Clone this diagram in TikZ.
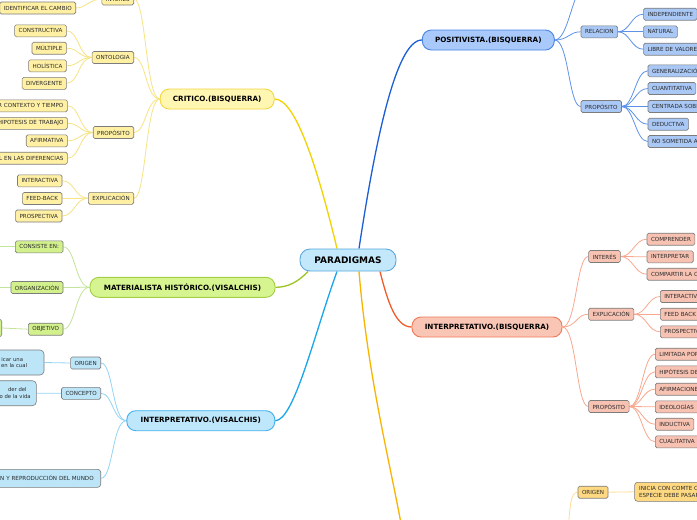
\documentclass[tikz,border=0pt]{standalone}
\usepackage{fontspec}
\setmainfont{DejaVu Sans}
\pgfdeclarelayer{bg}
\pgfsetlayers{bg,main}
\definecolor{txt}{HTML}{2A2A2A}
\definecolor{subgray}{HTML}{7C7C7C}
\definecolor{parafill}{HTML}{C4E8FB}
\definecolor{parabord}{HTML}{5AA8DE}
\definecolor{posfill}{HTML}{A8C9F9}
\definecolor{posbord}{HTML}{4A84E4}
\definecolor{posline}{HTML}{1A5FD6}
\definecolor{possub}{HTML}{A9C8F6}
\definecolor{posl2}{HTML}{5E92E8}
\definecolor{critfill}{HTML}{FFF6B2}
\definecolor{critbord}{HTML}{F2D640}
\definecolor{critline}{HTML}{F2D200}
\definecolor{critsub}{HTML}{FFF0A4}
\definecolor{critl2}{HTML}{F7E484}
\definecolor{matfill}{HTML}{D6F590}
\definecolor{matbord}{HTML}{A4CE44}
\definecolor{matline}{HTML}{9CC424}
\definecolor{matsub}{HTML}{D2F08C}
\definecolor{matl2}{HTML}{C4E49A}
\definecolor{ivfill}{HTML}{BEE7FB}
\definecolor{ivbord}{HTML}{40B0F0}
\definecolor{ivline}{HTML}{1AA6EA}
\definecolor{ivsub}{HTML}{BCE5F8}
\definecolor{ivl2}{HTML}{94D4F4}
\definecolor{ibfill}{HTML}{F9C6B6}
\definecolor{ibbord}{HTML}{F07A58}
\definecolor{ibline}{HTML}{F05C2C}
\definecolor{ibsub}{HTML}{F8C2B2}
\definecolor{ibl2}{HTML}{F8A88E}
\definecolor{orline}{HTML}{F8B400}
\definecolor{orsub}{HTML}{FFD982}
\definecolor{orl2}{HTML}{FFDC94}
\tikzset{
  mainbox/.style={draw, line width=0.9pt, rounded corners=9pt, minimum height=20pt, inner sep=0pt,
    font=\fontsize{7.2}{8}\selectfont\bfseries, text=black},
  subbox/.style={draw=subgray, line width=0.6pt, rounded corners=1.6pt, minimum height=12pt,
    inner xsep=4pt, inner ysep=0pt, font=\fontsize{5.6}{7}\selectfont, text=txt},
  cs/.style={subbox, fill=critsub},
  ps/.style={subbox, fill=possub},
  ms/.style={subbox, fill=matsub},
  vs/.style={subbox, fill=ivsub},
  bs/.style={subbox, fill=ibsub},
  os/.style={subbox, fill=orsub},
  mline/.style={line width=1.3pt},
  ltwo/.style={line width=0.8pt},
}
\begin{document}
\begin{tikzpicture}[x=1pt,y=-1pt]
\useasboundingbox (0,0) rectangle (697,520);
\clip (0,0) rectangle (697,520);

% main nodes
\node[mainbox, fill=parafill, draw=parabord, minimum width=96pt, minimum height=22pt, rounded corners=10pt,
  font=\fontsize{9}{10}\selectfont\bfseries] (para) at (348,260) {PARADIGMAS};
\node[mainbox, fill=posfill, draw=posbord, minimum width=132pt] (pos) at (488.3,40) {POSITIVISTA.(BISQUERRA)};
\node[mainbox, fill=critfill, draw=critbord, minimum width=114pt] (crit) at (217.2,99) {CRITICO.(BISQUERRA)};
\node[mainbox, fill=matfill, draw=matbord, minimum width=185pt] (mat) at (182.5,287.3) {MATERIALISTA HISTÓRICO.(VISALCHIS)};
\node[mainbox, fill=ivfill, draw=ivbord, minimum width=148pt] (iv) at (200.8,420.7) {INTERPRETATIVO.(VISALCHIS)};
\node[mainbox, fill=ibfill, draw=ibbord, minimum width=150pt] (ib) at (487,327) {INTERPRETATIVO.(BISQUERRA)};

% critico
\node[cs, anchor=east] (c1) at (134,-1) {INTERÉS};
\node[cs, anchor=east] (c1a) at (76,8) {IDENTIFICAR EL CAMBIO};
\node[cs, anchor=east] (c2) at (134,57.5) {ONTOLOGIA};
\node[cs, anchor=east] (c2a) at (66.7,30.8) {CONSTRUCTIVA};
\node[cs, anchor=east] (c2b) at (66.7,48.2) {MÚLTIPLE};
\node[cs, anchor=east] (c2c) at (66.7,65.8) {HOLÍSTICA};
\node[cs, anchor=east] (c2d) at (66.7,83.3) {DIVERGENTE};
\node[cs, anchor=east] (c3) at (134,132.5) {PROPÓSITO};
\node[cs, anchor=east, text width=90pt, align=right] (c3a) at (67.7,105.8) {POR CONTEXTO Y TIEMPO};
\node[cs, anchor=east, text width=90pt, align=right] (c3b) at (67.7,123.3) {HIPOTESIS DE TRABAJO};
\node[cs, anchor=east] (c3c) at (67.7,140.8) {AFIRMATIVA};
\node[cs, anchor=east, text width=90pt, align=right] (c3d) at (67.7,158.2) {L EN LAS DIFERENCIAS};
\node[cs, anchor=east] (c4) at (134,198.3) {EXPLICACIÓN};
\node[cs, anchor=east] (c4a) at (62.3,180.8) {INTERACTIVA};
\node[cs, anchor=east] (c4b) at (62.3,198.5) {FEED-BACK};
\node[cs, anchor=east] (c4c) at (62.3,216) {PROSPECTIVA};

% materialista
\node[ms, anchor=east] (m1) at (63.3,246.8) {CONSISTE EN:};
\node[ms, anchor=east] (m2) at (63.3,287.5) {ORGANIZACIÓN};
\node[ms, anchor=east] (m3) at (63.3,329.2) {OBJETIVO};
\node[ms, anchor=east, minimum width=40pt, minimum height=18pt, rounded corners=3pt] (m3a) at (2,328) {};
\coordinate (m1end) at (-4,246.8);
\coordinate (m2end) at (-4,287.5);

% interpretativo visalchis
\node[vs, anchor=east] (v1) at (101,363) {ORIGEN};
\node[vs, anchor=east, text width=60pt, align=right, inner xsep=17pt, minimum height=25pt, rounded corners=4pt,
  font=\fontsize{5.3}{6.5}\selectfont] (v1a) at (44.3,362.5) {icar una\kern4pt\\en la cual};
\node[vs, anchor=east] (v2) at (101,393.3) {CONCEPTO};
\node[vs, anchor=east, text width=60pt, align=right, inner xsep=5.7pt, minimum height=25pt, rounded corners=4pt,
  font=\fontsize{5.3}{6.5}\selectfont] (v2a) at (36.7,393.2) {der del\kern4pt\\o de la vida};
\node[vs, anchor=east, text width=110pt, align=right, inner xsep=7pt, minimum height=18pt, rounded corners=3pt] (v3) at (101,478.3) {ÓN Y REPRODUCCIÓN DEL MUNDO};

% positivista
\coordinate (ptop) at (585,-14);
\node[ps, anchor=west] (p1) at (580.7,31.8) {RELACION};
\node[ps, anchor=west] (p1a) at (643.3,14.2) {INDEPENDIENTE};
\node[ps, anchor=west] (p1b) at (643.3,31.8) {NATURAL};
\node[ps, anchor=west] (p1c) at (643.3,49.2) {LIBRE DE VALORES};
\node[ps, anchor=west] (p2) at (580.7,106.5) {PROPÓSITO};
\node[ps, anchor=west] (p2a) at (647.7,70.8) {GENERALIZACIÓN};
\node[ps, anchor=west] (p2b) at (647.7,88.5) {CUANTITATIVA};
\node[ps, anchor=west, text width=80pt, align=left] (p2c) at (647.7,106.5) {CENTRADA SOBRE};
\node[ps, anchor=west] (p2d) at (647.7,124.2) {DEDUCTIVA};
\node[ps, anchor=west, text width=80pt, align=left] (p2e) at (647.7,141.5) {NO SOMETIDA A};

% interpretativo bisquerra
\node[bs, anchor=west] (b1) at (588.3,256.5) {INTERÉS};
\node[bs, anchor=west] (b1a) at (646.7,239.2) {COMPRENDER};
\node[bs, anchor=west] (b1b) at (646.7,256.8) {INTERPRETAR};
\node[bs, anchor=west] (b1c) at (646.7,274.2) {COMPARTIR LA CULTURA};
\node[bs, anchor=west] (b2) at (588.3,314.2) {EXPLICACIÓN};
\node[bs, anchor=west] (b2a) at (660,296.5) {INTERACTIVA};
\node[bs, anchor=west, text width=60pt, align=left] (b2b) at (660,314.2) {FEED BACK};
\node[bs, anchor=west] (b2c) at (660,331.8) {PROSPECTIVA};
\node[bs, anchor=west] (b3) at (588.3,406.5) {PROPÓSITO};
\node[bs, anchor=west] (b3a) at (655,354.2) {LIMITADA POR};
\node[bs, anchor=west] (b3b) at (655,371.8) {HIPÓTESIS DE};
\node[bs, anchor=west] (b3c) at (655,389.2) {AFIRMACIONES};
\node[bs, anchor=west, text width=60pt, align=left] (b3d) at (655,406.8) {IDEOLOGÍAS};
\node[bs, anchor=west] (b3e) at (655,424.2) {INDUCTIVA};
\node[bs, anchor=west] (b3f) at (655,441.8) {CUALITATIVA};

% orange branch
\coordinate (orend) at (404,540);
\coordinate (oend) at (568,532);
\node[os, anchor=west] (o1) at (577.7,492.2) {ORIGEN};
\node[os, anchor=west, text width=90pt, align=left, inner xsep=4.5pt, minimum height=19pt, rounded corners=3pt,
  font=\fontsize{5.6}{7}\selectfont] (o1a) at (634.3,491.8) {INICIA CON COMTE CUANDO\\ESPECIE DEBE PASAR};

\begin{pgfonlayer}{bg}
\fill[white] (0,0) rectangle (697,520);
% main connectors
\draw[mline, draw=posline] ([xshift=11pt]para.north) .. controls (374,150) and (395,40) .. (pos.west);
\draw[mline, draw=critline] ([xshift=-11pt]para.north) .. controls (318,170) and (296,99) .. (crit.east);
\draw[mline, draw=matline] ([xshift=-40pt]para.south) .. controls (298,282) and (288,287.3) .. (mat.east);
\draw[mline, draw=ivline] ([xshift=-11pt]para.south) .. controls (314,335) and (294,420.7) .. (iv.east);
\draw[mline, draw=ibline] ([xshift=32pt]para.south) .. controls (388,303) and (396,327) .. (ib.west);
\draw[mline, draw=orline] ([xshift=11pt]para.south) .. controls (368,380) and (392,470) .. (orend);
% critico
\foreach \n in {c1,c2,c3,c4}
  \draw[ltwo, draw=critl2] (crit.west) .. controls +(-14,0) and +(12,0) .. (\n.east);
\draw[ltwo, draw=critl2] (c1.west) .. controls +(-12,0) and +(10,0) .. (c1a.east);
\foreach \n in {c2a,c2b,c2c,c2d}
  \draw[ltwo, draw=critl2] (c2.west) .. controls +(-13,0) and +(12,0) .. (\n.east);
\foreach \n in {c3a,c3b,c3c,c3d}
  \draw[ltwo, draw=critl2] (c3.west) .. controls +(-13,0) and +(12,0) .. (\n.east);
\foreach \n in {c4a,c4b,c4c}
  \draw[ltwo, draw=critl2] (c4.west) .. controls +(-13,0) and +(12,0) .. (\n.east);
% materialista
\foreach \n in {m1,m2,m3}
  \draw[ltwo, draw=matl2] (mat.west) .. controls +(-14,0) and +(12,0) .. (\n.east);
\draw[ltwo, draw=matl2] (m1.west) -- (m1end);
\draw[ltwo, draw=matl2] (m2.west) -- (m2end);
\draw[ltwo, draw=matl2] (m3.west) -- (m3a.east);
% interpretativo visalchis
\foreach \n in {v1,v2,v3}
  \draw[ltwo, draw=ivl2] (iv.west) .. controls +(-14,0) and +(12,0) .. (\n.east);
\draw[ltwo, draw=ivl2] (v1.west) -- (v1a.east);
\draw[ltwo, draw=ivl2] (v2.west) -- (v2a.east);
% positivista
\draw[ltwo, draw=posl2] (pos.east) .. controls +(14,0) and +(-12,0) .. (ptop);
\foreach \n in {p1,p2}
  \draw[ltwo, draw=posl2] (pos.east) .. controls +(14,0) and +(-12,0) .. (\n.west);
\foreach \n in {p1a,p1b,p1c}
  \draw[ltwo, draw=posl2] (p1.east) .. controls +(12,0) and +(-12,0) .. (\n.west);
\foreach \n in {p2a,p2b,p2c,p2d,p2e}
  \draw[ltwo, draw=posl2] (p2.east) .. controls +(12,0) and +(-12,0) .. (\n.west);
% interpretativo bisquerra
\foreach \n in {b1,b2,b3}
  \draw[ltwo, draw=ibl2] (ib.east) .. controls +(14,0) and +(-12,0) .. (\n.west);
\foreach \n in {b1a,b1b,b1c}
  \draw[ltwo, draw=ibl2] (b1.east) .. controls +(12,0) and +(-12,0) .. (\n.west);
\foreach \n in {b2a,b2b,b2c}
  \draw[ltwo, draw=ibl2] (b2.east) .. controls +(12,0) and +(-12,0) .. (\n.west);
\foreach \n in {b3a,b3b,b3c,b3d,b3e,b3f}
  \draw[ltwo, draw=ibl2] (b3.east) .. controls +(12,0) and +(-12,0) .. (\n.west);
% orange
\draw[ltwo, draw=orl2] (o1.west) .. controls +(-7,0) and (570,505) .. (oend);
\draw[ltwo, draw=orl2] (o1.east) -- (o1a.west);
\end{pgfonlayer}
\end{tikzpicture}
\end{document}
